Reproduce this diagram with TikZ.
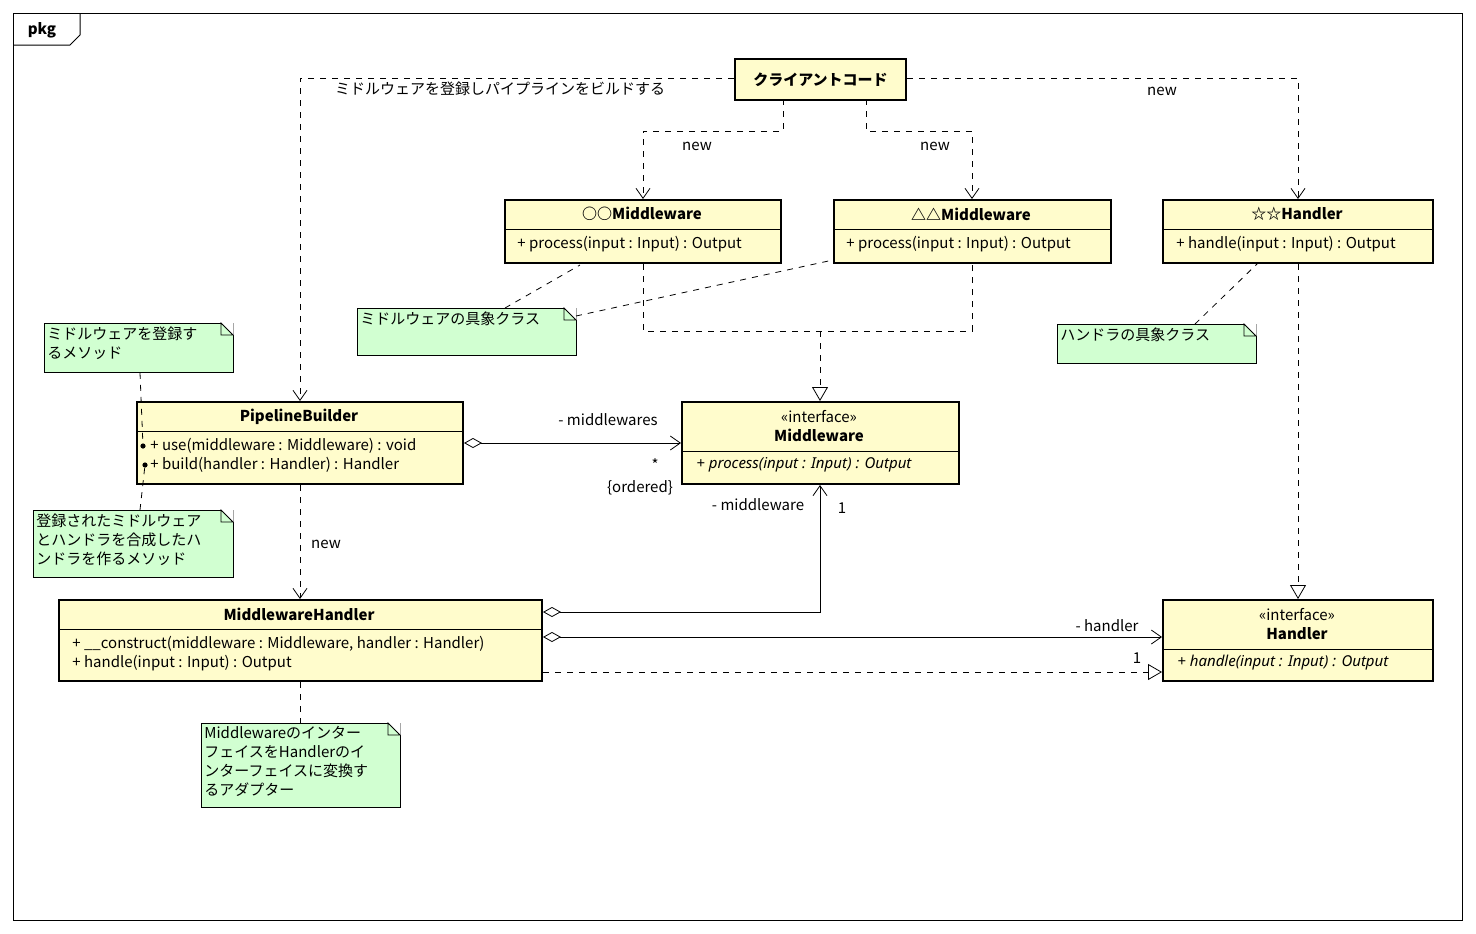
\documentclass[tikz,border=0pt]{standalone}
\usepackage{fontspec}
\setmainfont{Noto Sans CJK JP}
\newfontfamily\latinsans{Noto Sans}
\usepackage{tikz}
\usetikzlibrary{arrows.meta}

\begin{document}
\begin{tikzpicture}[x=0.5pt,y=-0.5pt,
	font=\fontsize{7.5}{9.5}\selectfont,
	cls/.style={draw, line width=1pt, fill=yellow!20, anchor=north west, inner sep=0pt},
	note/.style={draw, line width=0.4pt, fill=green!18, anchor=north west, inner sep=0pt},
	txt/.style={inner sep=0pt, anchor=west, align=left},
	dep/.style={dashed, -{Straight Barb[length=5pt,width=7pt]}},
	real/.style={dashed, -{Triangle[open,length=7pt,width=8pt]}},
	agg/.style={{Diamond[open,length=9pt,width=5pt]}-{Straight Barb[length=5pt,width=7pt]}},
	lnk/.style={dashed}]
\useasboundingbox (0,0) rectangle (1476,933);
% frame
\draw[line width=0.5pt] (13,13) rectangle (1462,920);
\draw[line width=0.5pt] (13,45) -- (70,45) -- (80,35) -- (80,13);
\node[font=\fontsize{7.5}{9}\selectfont\bfseries] at (42,30) {pkg};

% classes
\node[cls, minimum width=85.5pt, minimum height=20.5pt] (client) at (734,58) {};
\node[font=\fontsize{7.5}{9}\selectfont\bfseries] at (client.center) {クライアントコード};

\node[cls, minimum width=138pt, minimum height=31.5pt] (mwa) at (504,199) {};
\draw (504,229) -- (780,229);
\node[font=\fontsize{7.5}{9}\selectfont\bfseries] at (642,214) {○○Middleware};
\node[txt] at (517,244) {+ process(input : Input) : Output};

\node[cls, minimum width=138.5pt, minimum height=31.5pt] (mwb) at (833,199) {};
\draw (833,229) -- (1110,229);
\node[font=\fontsize{7.5}{9}\selectfont\bfseries] at (971,214) {△△Middleware};
\node[txt] at (846,244) {+ process(input : Input) : Output};

\node[cls, minimum width=135pt, minimum height=31.5pt] (hdc) at (1162,199) {};
\draw (1162,229) -- (1432,229);
\node[font=\fontsize{7.5}{9}\selectfont\bfseries] at (1297,214) {☆☆Handler};
\node[txt] at (1176,244) {+ handle(input : Input) : Output};

\node[cls, minimum width=163pt, minimum height=41pt] (pb) at (136,401) {};
\draw (136,431) -- (462,431);
\node[font=\fontsize{7.5}{9}\selectfont\bfseries] at (299,417) {PipelineBuilder};
\node[txt] at (150,446) {+ use(middleware : Middleware) : void};
\node[txt] at (150,465) {+ build(handler : Handler) : Handler};

\node[cls, minimum width=138.5pt, minimum height=41pt] (mwi) at (681,401) {};
\draw (681,451) -- (958,451);
\node[align=center, inner sep=0pt] at (819,426) {<<interface>>\\\textbf{Middleware}};
\node[txt] at (696,465) {\latinsans\itshape + process(input : Input) : Output};

\node[cls, minimum width=241.5pt, minimum height=40.5pt] (mh) at (58,599) {};
\draw (58,629) -- (541,629);
\node[font=\fontsize{7.5}{9}\selectfont\bfseries] at (299,614) {MiddlewareHandler};
\node[txt] at (72,644) {+ \_\_construct(middleware : Middleware, handler : Handler)};
\node[txt] at (72,663) {+ handle(input : Input) : Output};

\node[cls, minimum width=135pt, minimum height=40.5pt] (hdi) at (1162,599) {};
\draw (1162,649) -- (1432,649);
\node[align=center, inner sep=0pt] at (1297,624) {<<interface>>\\\textbf{Handler}};
\node[txt] at (1177,663) {\latinsans\itshape + handle(input : Input) : Output};

% notes
\foreach \nm/\x/\y/\w/\h in {n1/357/308/576/355, n2/1057/324/1256/363, n3/44/323/233/372, n4/33/510/233/577, n5/201/723/400/807}{
	\node[note, minimum width={(\w-\x)*0.5pt}, minimum height={(\h-\y)*0.5pt}] (\nm) at (\x,\y) {};
	\fill[white] (\w-12,\y-0.5) -- (\w+0.5,\y-0.5) -- (\w+0.5,\y+12) -- cycle;
	\draw[line width=0.4pt] (\w-12,\y) -- (\w,\y+12) -- (\w-12,\y+12) -- cycle;
}
\node[txt, anchor=north west] at (360,311) {ミドルウェアの具象クラス};
\node[txt, anchor=north west] at (1060,327) {ハンドラの具象クラス};
\node[txt, anchor=north west] at (47,326) {ミドルウェアを登録す\\るメソッド};
\node[txt, anchor=north west] at (36,513) {登録されたミドルウェア\\とハンドラを合成したハ\\ンドラを作るメソッド};
\node[txt, anchor=north west] at (204,726) {Middlewareのインター\\フェイスをHandlerのイ\\ンターフェイスに変換す\\るアダプター};

% connectors
\coordinate (c1) at (300,78);
\draw[dep] (client.west |- c1) -- (c1) -- (pb.north -| c1);
\node at (500,89) {ミドルウェアを登録しパイプラインをビルドする};
\draw[dep] (783,99) -- (783,131) -- (643,131) -- (mwa.north -| 643,0);
\node at (697,146) {new};
\draw[dep] (866,99) -- (866,131) -- (972,131) -- (mwb.north -| 972,0);
\node at (935,146) {new};
\coordinate (c2) at (1298,78);
\draw[dep] (client.east |- c2) -- (c2) -- (hdc.north -| c2);
\node at (1162,91) {new};

\draw[lnk] (mwa.south -| 643,0) -- (643,331) -- (972,331) -- (mwb.south -| 972,0);
\coordinate (c3) at (820,331);
\draw[real] (c3) -- (mwi.north -| c3);
\draw[real] (hdc.south -| 1298,0) -- (hdi.north -| 1298,0);

\draw[lnk] (n1.north -| 505,0) -- (580,265);
\draw[lnk] (576,316) -- (833,260);
\draw[lnk] (1195,324) -- (1258,263);
\draw[lnk] (n3.south -| 140,0) -- (143,446);
\fill (143,446) circle (1.3pt);
\draw[lnk] (n4.north -| 140,0) -- (145,465);
\fill (145,465) circle (1.3pt);
\draw[lnk] (mh.south -| 300,0) -- (n5.north -| 300,0);

\draw[agg] (pb.east |- 0,443) -- (mwi.west |- 0,443);
\node at (608,420) {- middlewares};
\node at (655,465) {*};
\node at (640,488) {\{ordered\}};
\draw[dep] (pb.south -| 300,0) -- (mh.north -| 300,0);
\node at (326,544) {new};

\coordinate (c4) at (820,612);
\draw[agg] (mh.east |- c4) -- (c4) -- (mwi.south -| c4);
\node at (758,505) {- middleware};
\node at (842,508) {1};
\draw[agg] (mh.east |- 0,637) -- (hdi.west |- 0,637);
\node at (1107,626) {- handler};
\node at (1137,658) {1};
\draw[real] (mh.east |- 0,672) -- (hdi.west |- 0,672);
\end{tikzpicture}
\end{document}
